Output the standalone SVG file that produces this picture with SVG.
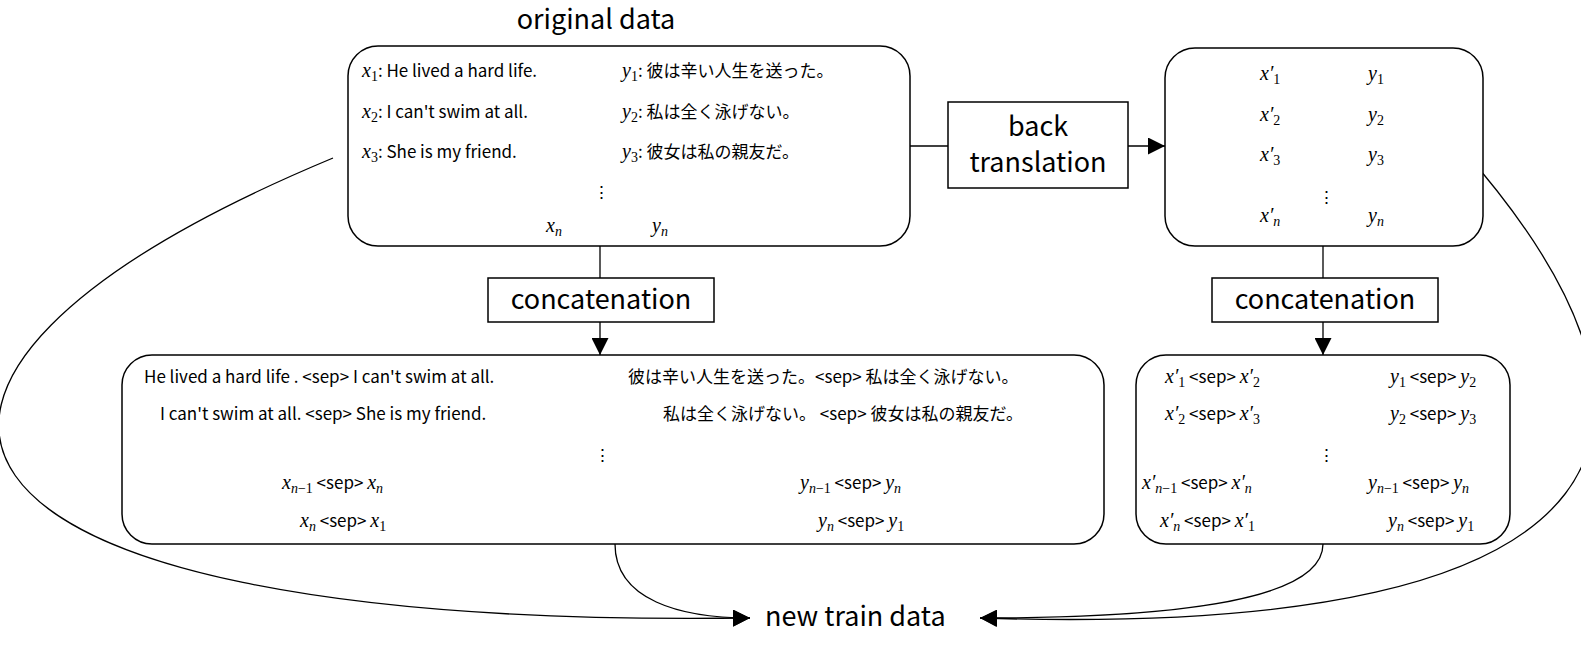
<svg xmlns="http://www.w3.org/2000/svg" width="1581" height="645" viewBox="0 0 1581 645">
<style>
.box{fill:#fff;stroke:#000;stroke-width:1.5}
.ln{fill:none;stroke:#000;stroke-width:1.3}
text{font-family:"Noto Sans CJK JP","Noto Sans",sans-serif;fill:#000;font-size:17px}
.big{font-size:27px}
.m{font-family:"Liberation Serif",serif;font-style:italic;font-size:20px}
.s{font-family:"Liberation Serif",serif;font-size:14px}
.sm{font-family:"Liberation Serif",serif;font-style:italic;font-size:14px}
</style>
<defs>
<marker id="ar2" viewBox="0 0 10 10" refX="10" refY="5" markerWidth="17" markerHeight="17" markerUnits="userSpaceOnUse" orient="auto"><path d="M0,0 L10,5 L0,10 z"/></marker>
</defs>
<g id="connectors">
<line class="ln" x1="910" y1="146" x2="948" y2="146"/>
<line class="ln" x1="1128" y1="146" x2="1165" y2="146" marker-end="url(#ar2)"/>
<line class="ln" x1="600" y1="246" x2="600" y2="278"/>
<line class="ln" x1="600" y1="322" x2="600" y2="355" marker-end="url(#ar2)"/>
<line class="ln" x1="1323" y1="246" x2="1323" y2="278"/>
<line class="ln" x1="1323" y1="322" x2="1323" y2="355" marker-end="url(#ar2)"/>
<path class="ln" d="M333,158 C-200,380 -120,630 750,618" marker-end="url(#ar2)"/>
<path class="ln" d="M615,544 C615,600 680,618 750,618" marker-end="url(#ar2)"/>
<path class="ln" d="M1323,544 C1323,605 1150,618 980,618" marker-end="url(#ar2)"/>
<path class="ln" d="M1463,150 C1700,420 1660,640 980,618" marker-end="url(#ar2)"/>
</g>
<g id="orig">
<text class="big" x="596" y="29" text-anchor="middle">original data</text>
<rect class="box" x="348" y="46" width="562" height="200" rx="30"/>
<text x="362" y="77"><tspan class="m">x</tspan><tspan class="s" dy="4">1</tspan><tspan dy="-4">: He lived a hard life.</tspan></text>
<text x="362" y="118"><tspan class="m">x</tspan><tspan class="s" dy="4">2</tspan><tspan dy="-4">: I can't swim at all.</tspan></text>
<text x="362" y="158"><tspan class="m">x</tspan><tspan class="s" dy="4">3</tspan><tspan dy="-4">: She is my friend.</tspan></text>
<text x="622" y="77"><tspan class="m">y</tspan><tspan class="s" dy="4">1</tspan><tspan dy="-4">:  彼は辛い人生を送った。</tspan></text>
<text x="622" y="118"><tspan class="m">y</tspan><tspan class="s" dy="4">2</tspan><tspan dy="-4">:  私は全く泳げない。</tspan></text>
<text x="622" y="158"><tspan class="m">y</tspan><tspan class="s" dy="4">3</tspan><tspan dy="-4">:  彼女は私の親友だ。</tspan></text>
<text x="601" y="198" text-anchor="middle">⋮</text>
<text x="546" y="232"><tspan class="m">x</tspan><tspan class="sm" dy="4">n</tspan></text>
<text x="652" y="232"><tspan class="m">y</tspan><tspan class="sm" dy="4">n</tspan></text>
</g>
<g id="bt">
<rect class="box" x="948" y="102" width="180" height="86"/>
<text class="big" x="1038" y="136" text-anchor="middle">back</text>
<text class="big" x="1038" y="172" text-anchor="middle">translation</text>
</g>
<g id="btdata">
<rect class="box" x="1165" y="48" width="318" height="198" rx="30"/>
<text x="1260" y="80"><tspan class="m">x′</tspan><tspan class="s" dy="4">1</tspan></text>
<text x="1260" y="121"><tspan class="m">x′</tspan><tspan class="s" dy="4">2</tspan></text>
<text x="1260" y="161"><tspan class="m">x′</tspan><tspan class="s" dy="4">3</tspan></text>
<text x="1326" y="203" text-anchor="middle">⋮</text>
<text x="1260" y="222"><tspan class="m">x′</tspan><tspan class="sm" dy="4">n</tspan></text>
<text x="1368" y="80"><tspan class="m">y</tspan><tspan class="s" dy="4">1</tspan></text>
<text x="1368" y="121"><tspan class="m">y</tspan><tspan class="s" dy="4">2</tspan></text>
<text x="1368" y="161"><tspan class="m">y</tspan><tspan class="s" dy="4">3</tspan></text>
<text x="1368" y="222"><tspan class="m">y</tspan><tspan class="sm" dy="4">n</tspan></text>
</g>
<g id="concat1">
<rect class="box" x="488" y="278" width="226" height="44"/>
<text class="big" x="601" y="309" text-anchor="middle">concatenation</text>
</g>
<g id="concat2">
<rect class="box" x="1212" y="278" width="226" height="44"/>
<text class="big" x="1325" y="309" text-anchor="middle">concatenation</text>
</g>
<g id="cdata1">
<rect class="box" x="122" y="355" width="982" height="189" rx="30"/>
<text x="144" y="383">He lived a hard life . &lt;sep&gt; I can't swim at all.</text>
<text x="160" y="420">I can't swim at all. &lt;sep&gt; She is my friend.</text>
<text x="628" y="383">彼は辛い人生を送った。&lt;sep&gt; 私は全く泳げない。</text>
<text x="663" y="420">私は全く泳げない。 &lt;sep&gt; 彼女は私の親友だ。</text>
<text x="602" y="461" text-anchor="middle">⋮</text>
<text x="282" y="489"><tspan class="m">x</tspan><tspan class="sm" dy="4">n</tspan><tspan class="s">−1</tspan><tspan dy="-4"> &lt;sep&gt; </tspan><tspan class="m">x</tspan><tspan class="sm" dy="4">n</tspan></text>
<text x="300" y="527"><tspan class="m">x</tspan><tspan class="sm" dy="4">n</tspan><tspan dy="-4"> &lt;sep&gt; </tspan><tspan class="m">x</tspan><tspan class="s" dy="4">1</tspan></text>
<text x="800" y="489"><tspan class="m">y</tspan><tspan class="sm" dy="4">n</tspan><tspan class="s">−1</tspan><tspan dy="-4"> &lt;sep&gt; </tspan><tspan class="m">y</tspan><tspan class="sm" dy="4">n</tspan></text>
<text x="818" y="527"><tspan class="m">y</tspan><tspan class="sm" dy="4">n</tspan><tspan dy="-4"> &lt;sep&gt; </tspan><tspan class="m">y</tspan><tspan class="s" dy="4">1</tspan></text>
</g>
<g id="cdata2">
<rect class="box" x="1136" y="355" width="374" height="189" rx="30"/>
<text x="1165" y="383"><tspan class="m">x′</tspan><tspan class="s" dy="4">1</tspan><tspan dy="-4"> &lt;sep&gt; </tspan><tspan class="m">x′</tspan><tspan class="s" dy="4">2</tspan></text>
<text x="1165" y="420"><tspan class="m">x′</tspan><tspan class="s" dy="4">2</tspan><tspan dy="-4"> &lt;sep&gt; </tspan><tspan class="m">x′</tspan><tspan class="s" dy="4">3</tspan></text>
<text x="1326" y="461" text-anchor="middle">⋮</text>
<text x="1142" y="489"><tspan class="m">x′</tspan><tspan class="sm" dy="4">n</tspan><tspan class="s">−1</tspan><tspan dy="-4"> &lt;sep&gt; </tspan><tspan class="m">x′</tspan><tspan class="sm" dy="4">n</tspan></text>
<text x="1160" y="527"><tspan class="m">x′</tspan><tspan class="sm" dy="4">n</tspan><tspan dy="-4"> &lt;sep&gt; </tspan><tspan class="m">x′</tspan><tspan class="s" dy="4">1</tspan></text>
<text x="1390" y="383"><tspan class="m">y</tspan><tspan class="s" dy="4">1</tspan><tspan dy="-4"> &lt;sep&gt; </tspan><tspan class="m">y</tspan><tspan class="s" dy="4">2</tspan></text>
<text x="1390" y="420"><tspan class="m">y</tspan><tspan class="s" dy="4">2</tspan><tspan dy="-4"> &lt;sep&gt; </tspan><tspan class="m">y</tspan><tspan class="s" dy="4">3</tspan></text>
<text x="1368" y="489"><tspan class="m">y</tspan><tspan class="sm" dy="4">n</tspan><tspan class="s">−1</tspan><tspan dy="-4"> &lt;sep&gt; </tspan><tspan class="m">y</tspan><tspan class="sm" dy="4">n</tspan></text>
<text x="1388" y="527"><tspan class="m">y</tspan><tspan class="sm" dy="4">n</tspan><tspan dy="-4"> &lt;sep&gt; </tspan><tspan class="m">y</tspan><tspan class="s" dy="4">1</tspan></text>
</g>
<g id="newtrain">
<text class="big" x="765" y="626">new train data</text>
</g>
</svg>
